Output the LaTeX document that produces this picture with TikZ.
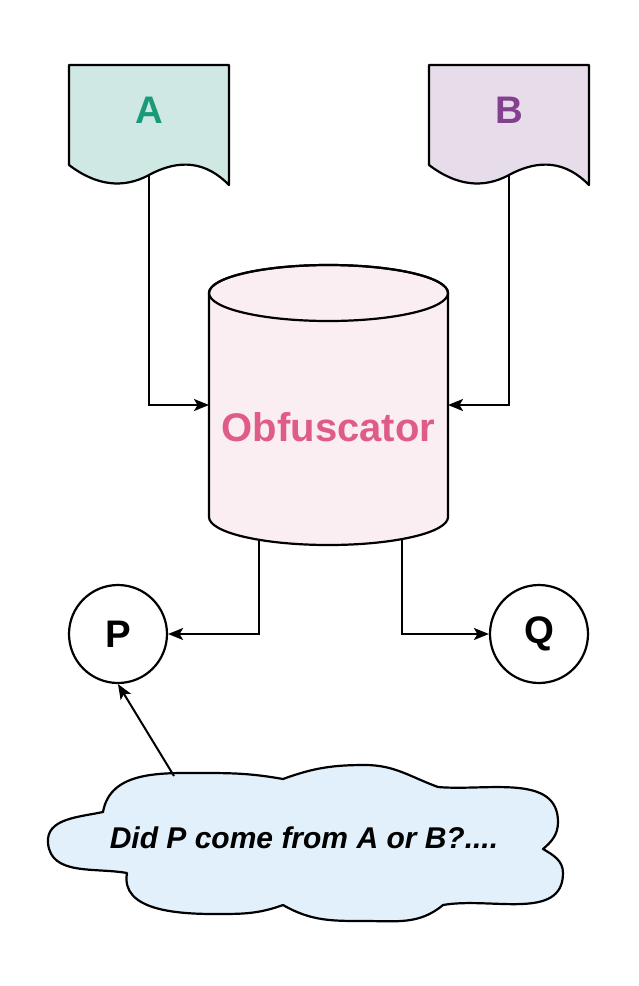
\documentclass[tikz,border=0pt]{standalone}
\usepackage{fontspec}
\setmainfont{Liberation Sans}
\usetikzlibrary{arrows.meta}

\definecolor{afill}{HTML}{CFE8E3}
\definecolor{atext}{HTML}{1A9A7B}
\definecolor{bfill}{HTML}{E6DCEA}
\definecolor{btext}{HTML}{82408E}
\definecolor{obffill}{HTML}{FAEEF2}
\definecolor{obftext}{HTML}{DE5C87}
\definecolor{cloudfill}{HTML}{E1F0FA}

\tikzset{
	outline/.style={draw=black, line width=2.2pt, line join=round},
	conn/.style={line width=2pt, -{Stealth[length=15pt,width=12pt,inset=3.5pt]}},
	bigtext/.style={font=\fontsize{38.4}{46}\selectfont\bfseries},
	asktext/.style={font=\fontsize{30}{36}\selectfont\bfseries\itshape},
}

\begin{document}
\begin{tikzpicture}[x=1pt, y=1pt]
	\useasboundingbox (0,0) rectangle (638,-986);
	% the two input documents
	\path[outline, fill=afill]
	 (69,-65) -- (229,-65) -- (229,-185) .. controls (206.3,-161.7) and (179.7,-158.3) .. (149,-175)
	 .. controls (123,-189) and (96.3,-185.7) .. (69,-165) -- cycle;
	\path[outline, fill=bfill]
	 (429,-65) -- (589,-65) -- (589,-185) .. controls (566.3,-161.7) and (539.7,-158.3) .. (509,-175)
	 .. controls (483,-189) and (456.3,-185.7) .. (429,-165) -- cycle;
	\node[bigtext, text=atext] (docA) at (149,-110) {A};
	\node[bigtext, text=btext] (docB) at (509,-110) {B};
	\coordinate (docAbot) at (149,-175);
	\coordinate (docBbot) at (509,-175);

	% the obfuscator drum
	\path[outline, fill=obffill]
	 (209,-293) -- (209,-517) arc[start angle=180, end angle=360, x radius=119.5, y radius=28]
	 -- (448,-293) arc[start angle=0, end angle=180, x radius=119.5, y radius=28] -- cycle;
	\draw[outline] (328.5,-293) ellipse[x radius=119.5, y radius=28];
	\node[bigtext, font=\fontsize{40}{48}\selectfont\bfseries, text=obftext] (obf) at (328.5,-427) {Obfuscator};
	\coordinate (obfW) at (209,-405);
	\coordinate (obfE) at (448,-405);
	\coordinate (obfSW) at (259,-540);
	\coordinate (obfSE) at (402,-540);

	% outputs
	\node[outline, circle, minimum size=98pt, inner sep=0pt, bigtext] (P) at (118,-634) {P};
	\node[outline, circle, minimum size=98pt, inner sep=0pt, bigtext] (Q) at (539,-634) {Q};

	% the question
	\path[outline, fill=cloudfill]
	 (103,-812) to[out=192, in=95] (48,-843) to[out=275, in=170] (127,-873)
	 to[out=260, in=180] (215,-914) to[out=0, in=200] (283,-905)
	 to[out=330, in=180] (365,-921) to[out=0, in=220] (443,-905)
	 to[out=10, in=270] (563,-873) to[out=90, in=330] (543,-849)
	 to[out=40, in=270] (558,-822) to[out=90, in=355] (438,-787)
	 to[out=160, in=0] (365,-765) to[out=180, in=20] (283,-779)
	 to[out=170, in=0] (205,-773) to[out=180, in=80] (103,-812) -- cycle;
	\node[asktext] (ask) at (304,-838) {Did P come from A or B?....};
	\coordinate (cloudtop) at (174,-776);

	\draw[conn] (docAbot) |- (obfW);
	\draw[conn] (docBbot) |- (obfE);
	\draw[conn] (obfSW) |- (P);
	\draw[conn] (obfSE) |- (Q);
	\draw[conn] (cloudtop) -- (P.south);
\end{tikzpicture}
\end{document}
